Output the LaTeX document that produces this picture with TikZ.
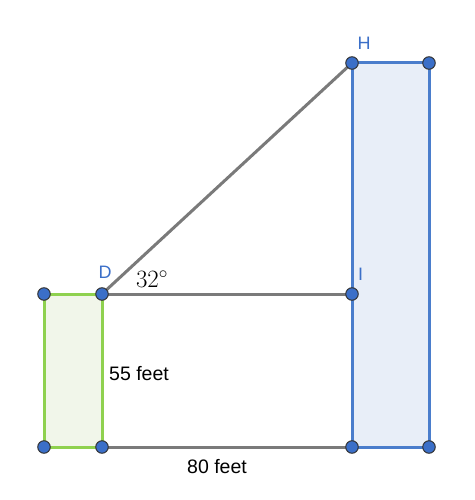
\documentclass[tikz,border=0pt]{standalone}
\usepackage{fontspec}
\setsansfont{Liberation Sans}
\definecolor{ptblue}{HTML}{3B6FC8}
\definecolor{rectblue}{HTML}{4A7DCC}
\definecolor{fillblue}{HTML}{E8EEF8}
\definecolor{rectgreen}{HTML}{8FD14F}
\definecolor{fillgreen}{HTML}{F1F6EA}
\definecolor{segment}{HTML}{7A7A7A}
\begin{document}
\begin{tikzpicture}[x=1pt,y=-1pt]
        \tikzstyle{vertex}=[circle,draw=black!80,fill=ptblue,line width=1pt,inner sep=0pt,minimum size=12.5pt]
        \tikzstyle{edge}=[draw=segment,line width=3pt]
        \tikzstyle{ptlabel}=[font=\sffamily\fontsize{18}{20}\selectfont,text=ptblue]
        \tikzstyle{measure}=[font=\sffamily\fontsize{19.5}{22}\selectfont]
        \useasboundingbox (0,0) rectangle (474,500);
       \begin{scope}
         % buildings
         \filldraw[fill=fillgreen,draw=rectgreen,line width=3pt] (44,294) rectangle (102,447);
         \filldraw[fill=fillblue,draw=rectblue,line width=3pt] (352,63) rectangle (429,447);

         \coordinate (a) at (44,294);
         \coordinate (D) at (102,294);
         \coordinate (b) at (44,447);
         \coordinate (c) at (102,447);
         \coordinate (H) at (352,63);
         \coordinate (e) at (429,63);
         \coordinate (I) at (352,294);
         \coordinate (f) at (352,447);
         \coordinate (g) at (429,447);

         \path[edge] (D) -- (H);
         \path[edge] (D) -- (I);
         \path[edge] (c) -- (f);

         \node [ptlabel] (lH) at (364,43) {H};
         \node [ptlabel] (lD) at (105,272) {D};
         \node [ptlabel] (lI) at (360.5,274) {I};
         \node [font=\fontsize{24}{26}\selectfont] (ang) at (152,279) {$32^\circ$};
         \node [measure] (h) at (139,374) {55 feet};
         \node [measure] (w) at (217,467) {80 feet};
        \end{scope}
        % points on top
        \foreach \p in {a,D,b,c,H,e,I,f,g}
          \node [vertex] at (\p) {};
      \end{tikzpicture}
\end{document}
